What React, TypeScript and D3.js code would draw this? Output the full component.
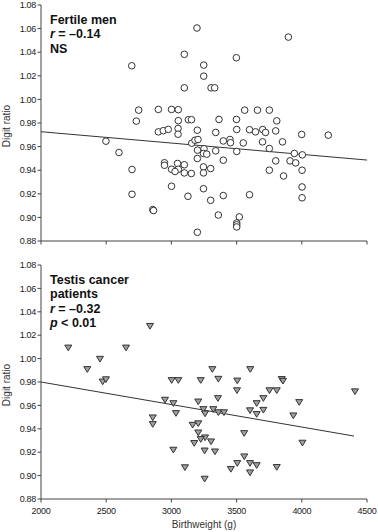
import React from "react";
import * as d3 from "d3";

const yTicks = [0.88, 0.9, 0.92, 0.94, 0.96, 0.98, 1.0, 1.02, 1.04, 1.06, 1.08];
const xTicks = [2000, 2500, 3000, 3500, 4000, 4500];

const fertileWeight = [
  2696, 3099, 3196, 3099, 2749, 2731, 2900, 3001, 3053, 3053, 3130, 3154, 3897, 3498, 3248, 3248,
  3304, 3332, 3562, 3660, 3751, 3365, 3499, 3808, 2900, 2938, 2976, 3051, 3051, 3199, 3340, 3501,
  3599, 3645, 3700, 3722, 3800, 3999, 4203, 2498, 2598, 2698, 2698, 2857, 2863, 3156, 3181, 3204,
  3398, 3449, 3453, 3551, 3699, 3852, 3200, 3250, 3246, 3271, 3340, 3501, 3751, 3943, 4004, 3199,
  3398, 3800, 3910, 3953, 2947, 2947, 3001, 3047, 3099, 3053, 3028, 3099, 3153, 3246, 3301, 3246,
  3751, 3860, 4002, 3001, 3246, 3127, 3301, 3398, 3599, 4002, 4002, 3360, 3521, 3501, 3501, 3501,
  3199,
];
const fertileRatio = [
  1.0285, 1.0382, 1.0605, 1.0098, 0.9909, 0.9816, 0.9915, 0.9915, 0.9913, 0.982, 0.9828, 0.9828,
  1.0528, 1.0353, 1.0291, 1.0197, 1.0098, 1.0098, 0.9909, 0.9909, 0.9909, 0.983, 0.983, 0.9818,
  0.9725, 0.9735, 0.9746, 0.9754, 0.9705, 0.9739, 0.972, 0.9745, 0.9743, 0.9725, 0.9745, 0.972,
  0.9733, 0.9703, 0.9697, 0.9646, 0.955, 0.9406, 0.9196, 0.9066, 0.9058, 0.9629, 0.9654, 0.966,
  0.9648, 0.966, 0.9633, 0.9631, 0.964, 0.964, 0.957, 0.9582, 0.9542, 0.9536, 0.9564, 0.9559,
  0.9584, 0.9542, 0.953, 0.9499, 0.9485, 0.9479, 0.9479, 0.9462, 0.9463, 0.9442, 0.9408, 0.9457,
  0.9446, 0.9408, 0.9389, 0.9377, 0.9372, 0.9428, 0.9414, 0.9377, 0.94, 0.9351, 0.94, 0.9264,
  0.9243, 0.9179, 0.9145, 0.9185, 0.9192, 0.9258, 0.9166, 0.902, 0.9004, 0.8953, 0.8937, 0.8919,
  0.8874,
];

const cancerWeight = [
  2209, 2355, 2452, 2473, 2498, 2652, 2836, 3002, 3053, 3225, 3314, 3605, 3360, 3505, 3846, 3856,
  3503, 3752, 3808, 4408, 2951, 3015, 3206, 3357, 3705, 3654, 3980, 3035, 3245, 3258, 3321, 3360,
  3403, 3603, 3654, 3705, 3935, 2857, 2857, 3163, 3206, 3206, 3258, 3225, 3304, 3175, 3558, 4005,
  3015, 3255, 3334, 3104, 3559, 3505, 3456, 3603, 3654, 3808, 3603, 3255,
];
const cancerRatio = [
  1.0094, 0.991, 0.9998, 0.9804, 0.9823, 1.0094, 1.0279, 0.9816, 0.9816, 0.9816, 0.991, 0.991,
  0.9827, 0.9812, 0.9825, 0.981, 0.9729, 0.9729, 0.9729, 0.972, 0.9648, 0.9619, 0.9633, 0.9662,
  0.9662, 0.9619, 0.9628, 0.9534, 0.9568, 0.9531, 0.9568, 0.9541, 0.9541, 0.9558, 0.9526, 0.9562,
  0.9514, 0.9497, 0.944, 0.9434, 0.9447, 0.9368, 0.9326, 0.9312, 0.9292, 0.9278, 0.9363, 0.9281,
  0.9221, 0.9214, 0.9206, 0.9071, 0.9164, 0.9107, 0.9057, 0.9107, 0.9089, 0.9073, 0.9027, 0.8973,
];

const fertileFitX = [2000, 4500];
const fertileFitY = [0.9726, 0.9486];
const cancerFitX = [2000, 4400];
const cancerFitY = [0.98, 0.9338];

const fertileNotes = ["Fertile men", "r = \u20130.14", "NS"];
const cancerNotes = ["Testis cancer", "patients", "r = \u20130.32", "p < 0.01"];

const FONT = "'Liberation Sans', Arial, Helvetica, sans-serif";
const AXIS = "#444";

const xScale = d3.scaleLinear().domain([2000, 4500]).range([41, 367]);

function Note({ text, x, y }: { text: string; x: number; y: number }) {
  const m = text.match(/^([rp])( .*)$/);
  return (
    <text x={x} y={y} fontFamily={FONT} fontSize={12.5} fontWeight="bold" fill="#111">
      {m ? (
        <>
          <tspan fontStyle="italic">{m[1]}</tspan>
          <tspan>{m[2]}</tspan>
        </>
      ) : (
        text
      )}
    </text>
  );
}

function Panel({
  top,
  bottom,
  weights,
  ratios,
  fitX,
  fitY,
  notes,
  marker,
  showXLabels,
}: {
  top: number;
  bottom: number;
  weights: number[];
  ratios: number[];
  fitX: number[];
  fitY: number[];
  notes: string[];
  marker: "circle" | "triangle";
  showXLabels: boolean;
}) {
  const y = d3.scaleLinear().domain([0.88, 1.08]).range([bottom, top]);
  const line = d3
    .line<number>()
    .x((_, i) => xScale(fitX[i]))
    .y((d) => y(d));
  const x0 = xScale.range()[0];
  const x1 = xScale.range()[1];
  const tri = "M-3.5,-2.5L3.5,-2.5L0,3.2Z";
  return (
    <g>
      <line x1={x0} x2={x0} y1={y(1.08)} y2={y(0.88)} stroke={AXIS} strokeWidth={1} />
      {yTicks.map((t) => (
        <g key={t}>
          <line x1={x0 - 3.5} x2={x0} y1={y(t)} y2={y(t)} stroke={AXIS} />
          <text
            x={x0 - 5}
            y={y(t)}
            dy="0.35em"
            textAnchor="end"
            fontFamily={FONT}
            fontSize={9}
            fill="#222"
            letterSpacing={-0.3}
          >
            {t.toFixed(2)}
          </text>
        </g>
      ))}
      <line x1={x0} x2={x1} y1={y(0.88)} y2={y(0.88)} stroke={AXIS} strokeWidth={1} />
      {xTicks.map((t) => (
        <g key={t}>
          <line x1={xScale(t)} x2={xScale(t)} y1={y(0.88)} y2={y(0.88) + 3.5} stroke={AXIS} />
          {showXLabels && (
            <text
              x={xScale(t)}
              y={y(0.88) + 15}
              textAnchor="middle"
              fontFamily={FONT}
              fontSize={9}
              fill="#222"
              letterSpacing={-0.3}
            >
              {t}
            </text>
          )}
        </g>
      ))}
      <text
        transform={`translate(10,${(y(1.08) + y(0.88)) / 2 + 3}) rotate(-90)`}
        textAnchor="middle"
        fontFamily={FONT}
        fontSize={10}
        fill="#333"
      >
        Digit ratio
      </text>
      <path d={line(fitY) || ""} fill="none" stroke="#333" strokeWidth={1} />
      {weights.map((w, i) =>
        marker === "circle" ? (
          <circle key={i} cx={xScale(w)} cy={y(ratios[i])} r={3.3} fill="#fff" stroke="#333" strokeWidth={1} />
        ) : (
          <path
            key={i}
            d={tri}
            transform={`translate(${xScale(w)},${y(ratios[i])})`}
            fill="#a0a0a0"
            stroke="#333"
            strokeWidth={1}
          />
        )
      )}
      {notes.map((n, i) => (
        <Note key={i} text={n} x={50} y={top + 19 + i * 14.3} />
      ))}
    </g>
  );
}

export default function App() {
  return (
    <svg
      width={378}
      height={532}
      viewBox="0 0 378 532"
      style={{ position: "absolute", left: 0, top: 0, background: "#fff", display: "block" }}
    >
      <rect width={378} height={532} fill="#fff" />
      <Panel
        top={5}
        bottom={241}
        weights={fertileWeight}
        ratios={fertileRatio}
        fitX={fertileFitX}
        fitY={fertileFitY}
        notes={fertileNotes}
        marker="circle"
        showXLabels={false}
      />
      <Panel
        top={265}
        bottom={499}
        weights={cancerWeight}
        ratios={cancerRatio}
        fitX={cancerFitX}
        fitY={cancerFitY}
        notes={cancerNotes}
        marker="triangle"
        showXLabels={true}
      />
      <text x={204} y={528} textAnchor="middle" fontFamily={FONT} fontSize={10} fill="#333">
        Birthweight (g)
      </text>
    </svg>
  );
}
